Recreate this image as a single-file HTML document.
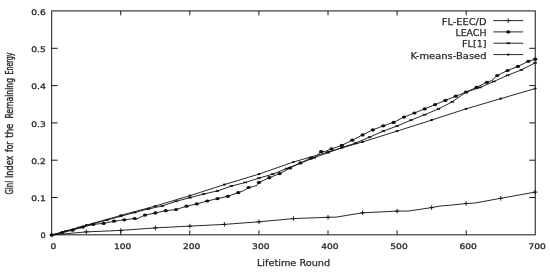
<!DOCTYPE html>
<html><head><meta charset="utf-8"><title>Gini Index</title>
<style>
html,body{margin:0;padding:0;background:#fff;}
body{width:550px;height:276px;overflow:hidden;}
svg{display:block;}
text{font-family:"DejaVu Sans","Liberation Sans",sans-serif;fill:#2a2a2a;stroke:#2a2a2a;stroke-width:0.25;}
.ln{fill:none;stroke:#111;stroke-width:0.9;stroke-linejoin:round;}
.mk{fill:none;stroke:#111;stroke-width:0.8;}
.ax{fill:none;stroke:#3c3c3c;stroke-width:1.2;}
.tk{stroke:#1a1a1a;stroke-width:1;}
.t{font-size:7.7px;stroke-width:0.32;}
.lg{font-size:9.2px;}
.yl{font-size:10px;stroke-width:0.4;}
</style></head><body>
<svg width="550" height="276" viewBox="0 0 550 276">
<rect width="550" height="276" fill="#fff"/>

<rect class="ax" x="51.6" y="10.9" width="483.7" height="223.9"/>
<text class="t" x="50.6" y="249.35" textLength="5.8" lengthAdjust="spacingAndGlyphs">0</text>
<line class="tk" x1="120.7" y1="234.8" x2="120.7" y2="230.4"/>
<line class="tk" x1="120.7" y1="10.9" x2="120.7" y2="15.3"/>
<text class="t" x="113.9" y="249.35" textLength="17.4" lengthAdjust="spacingAndGlyphs">100</text>
<line class="tk" x1="189.8" y1="234.8" x2="189.8" y2="230.4"/>
<line class="tk" x1="189.8" y1="10.9" x2="189.8" y2="15.3"/>
<text class="t" x="183.0" y="249.35" textLength="17.4" lengthAdjust="spacingAndGlyphs">200</text>
<line class="tk" x1="258.9" y1="234.8" x2="258.9" y2="230.4"/>
<line class="tk" x1="258.9" y1="10.9" x2="258.9" y2="15.3"/>
<text class="t" x="252.1" y="249.35" textLength="17.4" lengthAdjust="spacingAndGlyphs">300</text>
<line class="tk" x1="328.0" y1="234.8" x2="328.0" y2="230.4"/>
<line class="tk" x1="328.0" y1="10.9" x2="328.0" y2="15.3"/>
<text class="t" x="321.2" y="249.35" textLength="17.4" lengthAdjust="spacingAndGlyphs">400</text>
<line class="tk" x1="397.1" y1="234.8" x2="397.1" y2="230.4"/>
<line class="tk" x1="397.1" y1="10.9" x2="397.1" y2="15.3"/>
<text class="t" x="390.3" y="249.35" textLength="17.4" lengthAdjust="spacingAndGlyphs">500</text>
<line class="tk" x1="466.2" y1="234.8" x2="466.2" y2="230.4"/>
<line class="tk" x1="466.2" y1="10.9" x2="466.2" y2="15.3"/>
<text class="t" x="459.4" y="249.35" textLength="17.4" lengthAdjust="spacingAndGlyphs">600</text>
<text class="t" x="528.5" y="249.35" textLength="17.4" lengthAdjust="spacingAndGlyphs">700</text>
<text class="t" x="40.5" y="238.4" textLength="5.2" lengthAdjust="spacingAndGlyphs">0</text>
<line class="tk" x1="51.6" y1="197.5" x2="57.6" y2="197.5"/>
<line class="tk" x1="535.3" y1="197.5" x2="529.3" y2="197.5"/>
<text class="t" x="31.2" y="201.1" textLength="14.5" lengthAdjust="spacingAndGlyphs">0.1</text>
<line class="tk" x1="51.6" y1="160.2" x2="57.6" y2="160.2"/>
<line class="tk" x1="535.3" y1="160.2" x2="529.3" y2="160.2"/>
<text class="t" x="31.2" y="163.8" textLength="14.5" lengthAdjust="spacingAndGlyphs">0.2</text>
<line class="tk" x1="51.6" y1="122.9" x2="57.6" y2="122.9"/>
<line class="tk" x1="535.3" y1="122.9" x2="529.3" y2="122.9"/>
<text class="t" x="31.2" y="126.5" textLength="14.5" lengthAdjust="spacingAndGlyphs">0.3</text>
<line class="tk" x1="51.6" y1="85.6" x2="57.6" y2="85.6"/>
<line class="tk" x1="535.3" y1="85.6" x2="529.3" y2="85.6"/>
<text class="t" x="31.2" y="89.2" textLength="14.5" lengthAdjust="spacingAndGlyphs">0.4</text>
<line class="tk" x1="51.6" y1="48.3" x2="57.6" y2="48.3"/>
<line class="tk" x1="535.3" y1="48.3" x2="529.3" y2="48.3"/>
<text class="t" x="31.2" y="51.9" textLength="14.5" lengthAdjust="spacingAndGlyphs">0.5</text>
<text class="t" x="31.2" y="14.5" textLength="14.5" lengthAdjust="spacingAndGlyphs">0.6</text>
<text class="lg" x="256.9" y="266.4" textLength="73.3" lengthAdjust="spacingAndGlyphs">Lifetime Round</text>
<text class="yl" transform="translate(13.1,0) rotate(-90)"><tspan x="-194.6" textLength="13.7" lengthAdjust="spacingAndGlyphs">Gini</tspan> <tspan x="-178.1" textLength="22.4" lengthAdjust="spacingAndGlyphs">Index</tspan> <tspan x="-152.0" textLength="10.4" lengthAdjust="spacingAndGlyphs">for</tspan> <tspan x="-137.7" textLength="14.1" lengthAdjust="spacingAndGlyphs">the</tspan> <tspan x="-118.6" textLength="40.6" lengthAdjust="spacingAndGlyphs">Remaining</tspan> <tspan x="-74.6" textLength="22.1" lengthAdjust="spacingAndGlyphs">Energy</tspan></text>
<polyline class="ln" points="51.8,235.0 86.3,231.9 120.9,230.4 155.4,227.9 189.9,226.1 224.4,224.4 259.0,221.8 293.5,218.6 328.0,217.3 336.3,217.1 362.6,212.8 397.1,211.1 408.8,211.0 431.6,207.6 440.6,206.0 450.3,205.2 466.1,203.5 474.4,203.1 500.7,198.3 535.2,192.1"/>
<path class="ln" d="M49.5 235.0H54.1M51.8 232.7V237.3"/>
<path class="ln" d="M84.0 231.9H88.6M86.3 229.6V234.2"/>
<path class="ln" d="M118.6 230.4H123.2M120.9 228.1V232.7"/>
<path class="ln" d="M153.1 227.9H157.7M155.4 225.6V230.2"/>
<path class="ln" d="M187.6 226.1H192.2M189.9 223.8V228.4"/>
<path class="ln" d="M222.1 224.4H226.7M224.4 222.1V226.7"/>
<path class="ln" d="M256.7 221.8H261.3M259.0 219.5V224.1"/>
<path class="ln" d="M291.2 218.6H295.8M293.5 216.3V220.9"/>
<path class="ln" d="M325.7 217.3H330.3M328.0 215.0V219.6"/>
<path class="ln" d="M360.3 212.8H364.9M362.6 210.5V215.1"/>
<path class="ln" d="M394.8 211.1H399.4M397.1 208.8V213.4"/>
<path class="ln" d="M429.3 207.6H433.9M431.6 205.3V209.9"/>
<path class="ln" d="M463.8 203.5H468.4M466.1 201.2V205.8"/>
<path class="ln" d="M498.4 198.3H503.0M500.7 196.0V200.6"/>
<path class="ln" d="M532.9 192.1H537.5M535.2 189.8V194.4"/>
<polyline class="ln" points="51.8,235.0 86.3,225.2 120.9,215.4 155.4,206.0 189.9,195.7 224.4,184.6 259.0,174.1 293.5,162.0 328.0,152.0 362.6,141.9 397.1,131.1 431.6,120.1 466.1,108.8 500.7,98.7 535.2,88.5"/>
<ellipse cx="51.8" cy="235.0" rx="1.45" ry="1.09" fill="#111"/>
<ellipse cx="86.3" cy="225.2" rx="1.45" ry="1.09" fill="#111"/>
<ellipse cx="120.9" cy="215.4" rx="1.45" ry="1.09" fill="#111"/>
<ellipse cx="155.4" cy="206.0" rx="1.45" ry="1.09" fill="#111"/>
<ellipse cx="189.9" cy="195.7" rx="1.45" ry="1.09" fill="#111"/>
<ellipse cx="224.4" cy="184.6" rx="1.45" ry="1.09" fill="#111"/>
<ellipse cx="259.0" cy="174.1" rx="1.45" ry="1.09" fill="#111"/>
<ellipse cx="293.5" cy="162.0" rx="1.45" ry="1.09" fill="#111"/>
<ellipse cx="328.0" cy="152.0" rx="1.45" ry="1.09" fill="#111"/>
<ellipse cx="362.6" cy="141.9" rx="1.45" ry="1.09" fill="#111"/>
<ellipse cx="397.1" cy="131.1" rx="1.45" ry="1.09" fill="#111"/>
<ellipse cx="431.6" cy="120.1" rx="1.45" ry="1.09" fill="#111"/>
<ellipse cx="466.1" cy="108.8" rx="1.45" ry="1.09" fill="#111"/>
<ellipse cx="500.7" cy="98.7" rx="1.45" ry="1.09" fill="#111"/>
<ellipse cx="535.2" cy="88.5" rx="1.45" ry="1.09" fill="#111"/>
<polyline class="ln" points="51.8,235.0 65.6,231.3 79.4,227.5 93.2,223.8 107.0,220.1 120.9,216.2 134.7,212.5 148.5,208.9 162.3,206.0 176.1,201.3 189.9,197.7 203.7,194.0 217.5,190.9 231.3,186.1 245.2,182.5 259.0,178.1 272.8,174.1 286.6,168.5 300.4,163.2 314.2,157.7 328.0,152.7 341.8,147.6 355.7,143.0 369.5,137.2 383.3,131.1 397.1,126.0 410.9,120.2 424.7,114.7 438.5,108.9 452.3,101.8 466.1,92.2 480.0,87.5 493.8,81.5 507.6,75.3 521.4,69.9 535.2,62.8"/>
<path class="mk" d="M50.3 234.2L53.3 235.8M50.3 235.8L53.3 234.2M50.0 235.0H53.6"/>
<path class="mk" d="M64.1 230.4L67.1 232.1M64.1 232.1L67.1 230.4M63.8 231.3H67.4"/>
<path class="mk" d="M77.9 226.7L80.9 228.4M77.9 228.4L80.9 226.7M77.6 227.5H81.2"/>
<path class="mk" d="M91.7 223.0L94.7 224.7M91.7 224.7L94.7 223.0M91.4 223.8H95.0"/>
<path class="mk" d="M105.5 219.2L108.5 220.9M105.5 220.9L108.5 219.2M105.2 220.1H108.8"/>
<path class="mk" d="M119.4 215.4L122.4 217.1M119.4 217.1L122.4 215.4M119.1 216.2H122.7"/>
<path class="mk" d="M133.2 211.7L136.2 213.4M133.2 213.4L136.2 211.7M132.9 212.5H136.5"/>
<path class="mk" d="M147.0 208.1L150.0 209.8M147.0 209.8L150.0 208.1M146.7 208.9H150.3"/>
<path class="mk" d="M160.8 205.2L163.8 206.9M160.8 206.9L163.8 205.2M160.5 206.0H164.1"/>
<path class="mk" d="M174.6 200.4L177.6 202.1M174.6 202.1L177.6 200.4M174.3 201.3H177.9"/>
<path class="mk" d="M188.4 196.8L191.4 198.5M188.4 198.5L191.4 196.8M188.1 197.7H191.7"/>
<path class="mk" d="M202.2 193.2L205.2 194.9M202.2 194.9L205.2 193.2M201.9 194.0H205.5"/>
<path class="mk" d="M216.0 190.0L219.0 191.7M216.0 191.7L219.0 190.0M215.7 190.9H219.3"/>
<path class="mk" d="M229.8 185.2L232.8 186.9M229.8 186.9L232.8 185.2M229.5 186.1H233.1"/>
<path class="mk" d="M243.7 181.6L246.7 183.3M243.7 183.3L246.7 181.6M243.4 182.5H247.0"/>
<path class="mk" d="M257.5 177.3L260.5 179.0M257.5 179.0L260.5 177.3M257.2 178.1H260.8"/>
<path class="mk" d="M271.3 173.2L274.3 174.9M271.3 174.9L274.3 173.2M271.0 174.1H274.6"/>
<path class="mk" d="M285.1 167.7L288.1 169.4M285.1 169.4L288.1 167.7M284.8 168.5H288.4"/>
<path class="mk" d="M298.9 162.4L301.9 164.1M298.9 164.1L301.9 162.4M298.6 163.2H302.2"/>
<path class="mk" d="M312.7 156.9L315.7 158.6M312.7 158.6L315.7 156.9M312.4 157.7H316.0"/>
<path class="mk" d="M326.5 151.8L329.5 153.5M326.5 153.5L329.5 151.8M326.2 152.7H329.8"/>
<path class="mk" d="M340.3 146.8L343.3 148.5M340.3 148.5L343.3 146.8M340.0 147.6H343.6"/>
<path class="mk" d="M354.2 142.1L357.2 143.8M354.2 143.8L357.2 142.1M353.9 143.0H357.5"/>
<path class="mk" d="M368.0 136.3L371.0 138.0M368.0 138.0L371.0 136.3M367.7 137.2H371.3"/>
<path class="mk" d="M381.8 130.3L384.8 132.0M381.8 132.0L384.8 130.3M381.5 131.1H385.1"/>
<path class="mk" d="M395.6 125.1L398.6 126.8M395.6 126.8L398.6 125.1M395.3 126.0H398.9"/>
<path class="mk" d="M409.4 119.4L412.4 121.0M409.4 121.0L412.4 119.4M409.1 120.2H412.7"/>
<path class="mk" d="M423.2 113.9L426.2 115.6M423.2 115.6L426.2 113.9M422.9 114.7H426.5"/>
<path class="mk" d="M437.0 108.0L440.0 109.7M437.0 109.7L440.0 108.0M436.7 108.9H440.3"/>
<path class="mk" d="M450.8 101.0L453.8 102.7M450.8 102.7L453.8 101.0M450.5 101.8H454.1"/>
<path class="mk" d="M464.6 91.3L467.6 93.0M464.6 93.0L467.6 91.3M464.3 92.2H467.9"/>
<path class="mk" d="M478.5 86.6L481.5 88.3M478.5 88.3L481.5 86.6M478.2 87.5H481.8"/>
<path class="mk" d="M492.3 80.6L495.3 82.3M492.3 82.3L495.3 80.6M492.0 81.5H495.6"/>
<path class="mk" d="M506.1 74.5L509.1 76.2M506.1 76.2L509.1 74.5M505.8 75.3H509.4"/>
<path class="mk" d="M519.9 69.0L522.9 70.7M519.9 70.7L522.9 69.0M519.6 69.9H523.2"/>
<path class="mk" d="M533.7 62.0L536.7 63.7M533.7 63.7L536.7 62.0M533.4 62.8H537.0"/>
<polyline class="ln" points="51.8,235.0 62.2,232.6 72.5,230.2 82.9,227.1 93.2,224.4 103.6,223.4 114.0,221.2 124.3,219.8 134.7,218.5 136.7,219.0 145.0,215.1 155.4,212.9 165.7,210.7 176.1,209.5 186.5,206.2 196.8,203.9 207.2,201.0 217.5,198.6 227.9,196.3 238.3,192.6 243.8,190.6 248.6,187.5 253.4,186.5 256.9,185.5 258.3,182.7 259.0,182.4 269.3,177.7 279.7,173.6 290.0,168.0 300.4,162.9 310.8,158.2 314.9,157.2 321.1,151.7 325.3,151.4 331.5,148.9 341.8,145.4 352.2,140.2 362.6,134.9 372.9,129.9 383.3,125.8 393.6,122.4 404.0,117.1 414.4,113.0 424.7,108.9 435.1,104.6 445.4,100.4 455.8,96.2 466.1,92.1 476.5,87.4 486.9,82.3 491.7,80.6 497.2,75.5 507.6,70.5 517.9,66.4 528.3,61.3 535.2,59.2"/>
<ellipse cx="51.8" cy="235.0" rx="2.10" ry="1.58" fill="#111"/>
<ellipse cx="62.2" cy="232.6" rx="2.10" ry="1.58" fill="#111"/>
<ellipse cx="72.5" cy="230.2" rx="2.10" ry="1.58" fill="#111"/>
<ellipse cx="82.9" cy="227.1" rx="2.10" ry="1.58" fill="#111"/>
<ellipse cx="93.2" cy="224.4" rx="2.10" ry="1.58" fill="#111"/>
<ellipse cx="103.6" cy="223.4" rx="2.10" ry="1.58" fill="#111"/>
<ellipse cx="114.0" cy="221.2" rx="2.10" ry="1.58" fill="#111"/>
<ellipse cx="124.3" cy="219.8" rx="2.10" ry="1.58" fill="#111"/>
<ellipse cx="134.7" cy="218.5" rx="2.10" ry="1.58" fill="#111"/>
<ellipse cx="145.0" cy="215.1" rx="2.10" ry="1.58" fill="#111"/>
<ellipse cx="155.4" cy="212.9" rx="2.10" ry="1.58" fill="#111"/>
<ellipse cx="165.7" cy="210.7" rx="2.10" ry="1.58" fill="#111"/>
<ellipse cx="176.1" cy="209.5" rx="2.10" ry="1.58" fill="#111"/>
<ellipse cx="186.5" cy="206.2" rx="2.10" ry="1.58" fill="#111"/>
<ellipse cx="196.8" cy="203.9" rx="2.10" ry="1.58" fill="#111"/>
<ellipse cx="207.2" cy="201.0" rx="2.10" ry="1.58" fill="#111"/>
<ellipse cx="217.5" cy="198.6" rx="2.10" ry="1.58" fill="#111"/>
<ellipse cx="227.9" cy="196.3" rx="2.10" ry="1.58" fill="#111"/>
<ellipse cx="238.3" cy="192.6" rx="2.10" ry="1.58" fill="#111"/>
<ellipse cx="248.6" cy="187.5" rx="2.10" ry="1.58" fill="#111"/>
<ellipse cx="259.0" cy="182.4" rx="2.10" ry="1.58" fill="#111"/>
<ellipse cx="269.3" cy="177.7" rx="2.10" ry="1.58" fill="#111"/>
<ellipse cx="279.7" cy="173.6" rx="2.10" ry="1.58" fill="#111"/>
<ellipse cx="290.0" cy="168.0" rx="2.10" ry="1.58" fill="#111"/>
<ellipse cx="300.4" cy="162.9" rx="2.10" ry="1.58" fill="#111"/>
<ellipse cx="310.8" cy="158.2" rx="2.10" ry="1.58" fill="#111"/>
<ellipse cx="321.1" cy="151.7" rx="2.10" ry="1.58" fill="#111"/>
<ellipse cx="331.5" cy="148.9" rx="2.10" ry="1.58" fill="#111"/>
<ellipse cx="341.8" cy="145.4" rx="2.10" ry="1.58" fill="#111"/>
<ellipse cx="352.2" cy="140.2" rx="2.10" ry="1.58" fill="#111"/>
<ellipse cx="362.6" cy="134.9" rx="2.10" ry="1.58" fill="#111"/>
<ellipse cx="372.9" cy="129.9" rx="2.10" ry="1.58" fill="#111"/>
<ellipse cx="383.3" cy="125.8" rx="2.10" ry="1.58" fill="#111"/>
<ellipse cx="393.6" cy="122.4" rx="2.10" ry="1.58" fill="#111"/>
<ellipse cx="404.0" cy="117.1" rx="2.10" ry="1.58" fill="#111"/>
<ellipse cx="414.4" cy="113.0" rx="2.10" ry="1.58" fill="#111"/>
<ellipse cx="424.7" cy="108.9" rx="2.10" ry="1.58" fill="#111"/>
<ellipse cx="435.1" cy="104.6" rx="2.10" ry="1.58" fill="#111"/>
<ellipse cx="445.4" cy="100.4" rx="2.10" ry="1.58" fill="#111"/>
<ellipse cx="455.8" cy="96.2" rx="2.10" ry="1.58" fill="#111"/>
<ellipse cx="466.1" cy="92.1" rx="2.10" ry="1.58" fill="#111"/>
<ellipse cx="476.5" cy="87.4" rx="2.10" ry="1.58" fill="#111"/>
<ellipse cx="486.9" cy="82.3" rx="2.10" ry="1.58" fill="#111"/>
<ellipse cx="497.2" cy="75.5" rx="2.10" ry="1.58" fill="#111"/>
<ellipse cx="507.6" cy="70.5" rx="2.10" ry="1.58" fill="#111"/>
<ellipse cx="517.9" cy="66.4" rx="2.10" ry="1.58" fill="#111"/>
<ellipse cx="528.3" cy="61.3" rx="2.10" ry="1.58" fill="#111"/>
<ellipse cx="535.2" cy="59.2" rx="2.10" ry="1.58" fill="#111"/>
<text class="lg" x="441.8" y="24.8" textLength="44.7" lengthAdjust="spacingAndGlyphs">FL-EEC/D</text>
<line class="ln" x1="493.3" y1="20.6" x2="523.2" y2="20.6"/>
<path class="ln" d="M506.0 20.6H510.6M508.3 18.3V22.9"/>
<text class="lg" x="455.4" y="36.1" textLength="31.1" lengthAdjust="spacingAndGlyphs">LEACH</text>
<line class="ln" x1="493.3" y1="31.9" x2="523.2" y2="31.9"/>
<ellipse cx="508.3" cy="31.9" rx="2.10" ry="1.58" fill="#111"/>
<text class="lg" x="462.1" y="47.4" textLength="24.4" lengthAdjust="spacingAndGlyphs">FL[1]</text>
<line class="ln" x1="493.3" y1="43.2" x2="523.2" y2="43.2"/>
<path class="mk" d="M506.8 42.4L509.8 44.1M506.8 44.1L509.8 42.4M506.5 43.2H510.1"/>
<text class="lg" x="410.4" y="58.8" textLength="76.1" lengthAdjust="spacingAndGlyphs">K-means-Based</text>
<line class="ln" x1="493.3" y1="54.6" x2="523.2" y2="54.6"/>
<ellipse cx="508.3" cy="54.6" rx="1.45" ry="1.09" fill="#111"/>
</svg></body></html>
